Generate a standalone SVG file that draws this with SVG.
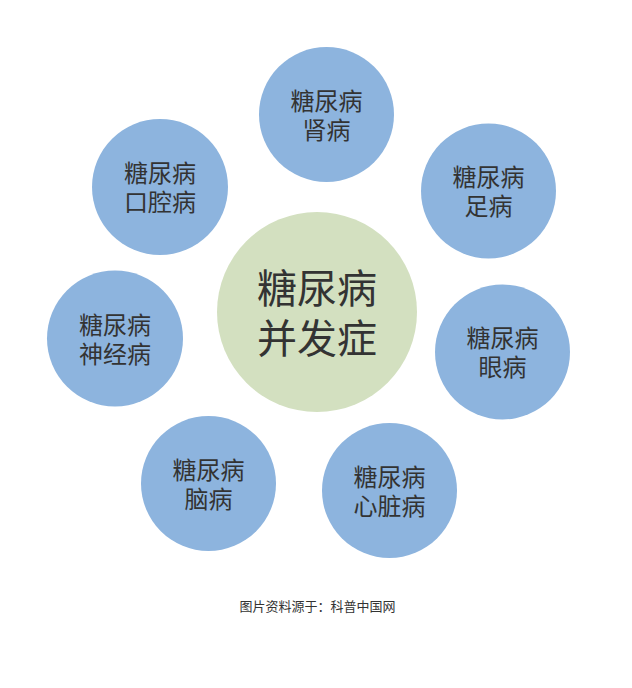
<svg xmlns="http://www.w3.org/2000/svg" width="632" height="688" viewBox="0 0 632 688">
<style>
.sat{fill:#8db4de;}
.core{fill:#d3e0c0;}
text{font-family:"Noto Sans CJK SC","Noto Sans",sans-serif;fill:#333;text-anchor:middle;}
.s{font-size:24px;}
.c{font-size:40px;}
.cap{font-size:13px;}
</style>
<rect width="632" height="688" fill="#ffffff"/>
<g id="connectors"></g>
<g id="center">
<circle class="core" cx="317" cy="312" r="100"/>
<text class="c" x="317" y="303">糖尿病</text>
<text class="c" x="317" y="353">并发症</text>
</g>
<g id="kidney">
<circle class="sat" cx="326.5" cy="114.5" r="67.5"/>
<text class="s" x="326.5" y="109.5">糖尿病</text>
<text class="s" x="326.5" y="138.5">肾病</text>
</g>
<g id="foot">
<circle class="sat" cx="488.5" cy="191" r="67.5"/>
<text class="s" x="488.5" y="186">糖尿病</text>
<text class="s" x="488.5" y="215">足病</text>
</g>
<g id="eye">
<circle class="sat" cx="502.5" cy="352" r="67.5"/>
<text class="s" x="502.5" y="347">糖尿病</text>
<text class="s" x="502.5" y="376">眼病</text>
</g>
<g id="heart">
<circle class="sat" cx="389.5" cy="490.5" r="67.5"/>
<text class="s" x="389.5" y="485.5">糖尿病</text>
<text class="s" x="389.5" y="514.5">心脏病</text>
</g>
<g id="brain">
<circle class="sat" cx="208.5" cy="483.5" r="67.5"/>
<text class="s" x="208.5" y="478.5">糖尿病</text>
<text class="s" x="208.5" y="507.5">脑病</text>
</g>
<g id="nerve">
<circle class="sat" cx="115" cy="338.5" r="68"/>
<text class="s" x="115" y="333.5">糖尿病</text>
<text class="s" x="115" y="362.5">神经病</text>
</g>
<g id="oral">
<circle class="sat" cx="160" cy="187" r="68"/>
<text class="s" x="160" y="182">糖尿病</text>
<text class="s" x="160" y="211">口腔病</text>
</g>
<text class="cap" x="317.5" y="611">图片资料源于：科普中国网</text>
</svg>
